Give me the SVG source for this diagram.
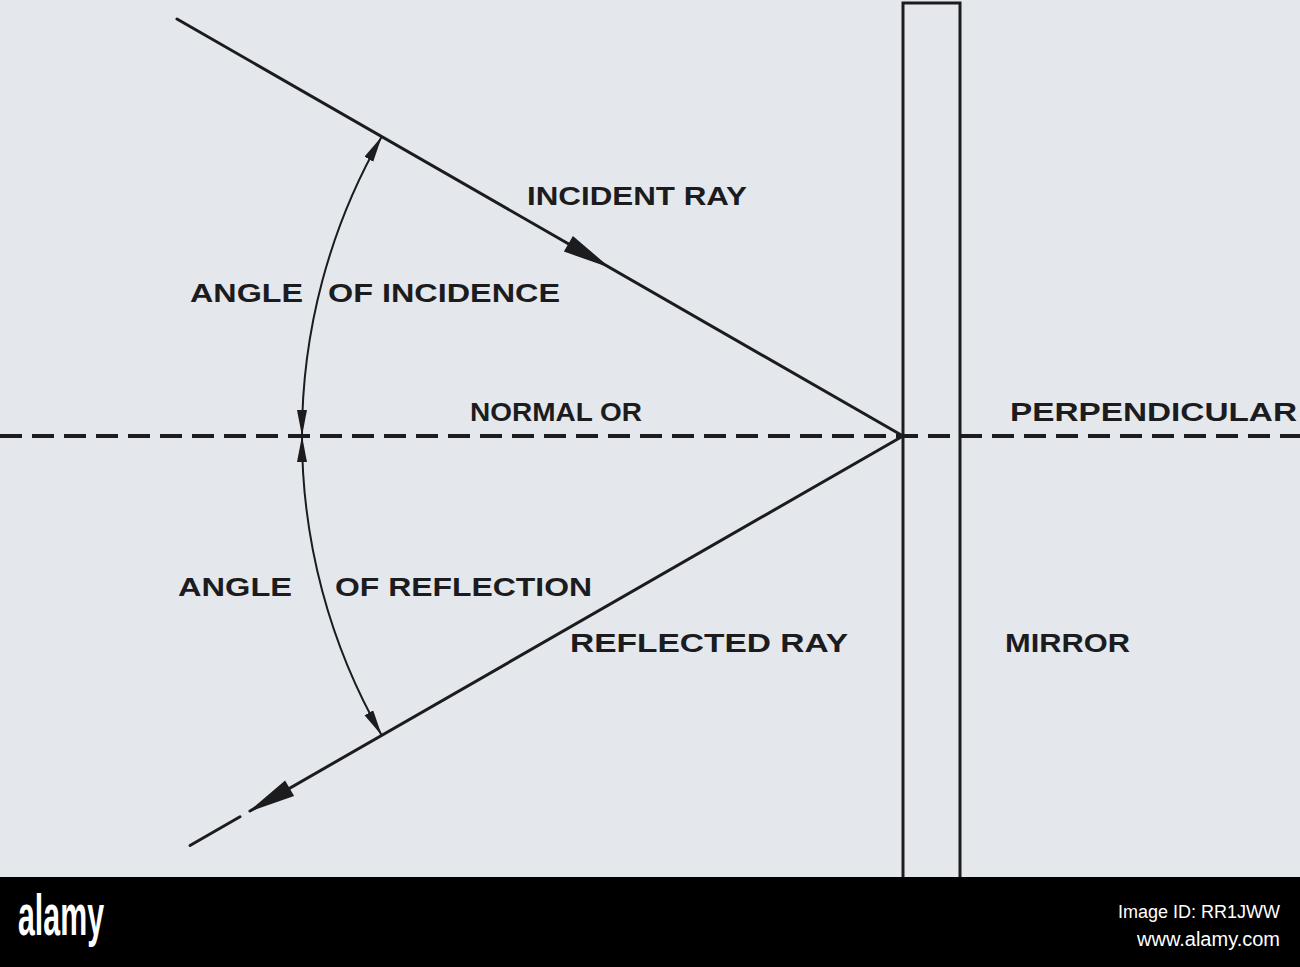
<svg xmlns="http://www.w3.org/2000/svg" width="1300" height="967" viewBox="0 0 1300 967">
  <style>
    .lbl { font-family: "Liberation Sans", Arial, sans-serif; font-weight: bold; font-size: 26px; fill: #1c1c1e; }
    .ray { stroke: #1c1c1e; stroke-width: 3; fill: none; stroke-linecap: round; }
    .arc { stroke: #1c1c1e; stroke-width: 2; fill: none; }
    .normal { stroke: #1c1c1e; stroke-width: 4; stroke-dasharray: 22 10; fill: none; }
    .head { fill: #1c1c1e; }
    .foot { font-family: "Liberation Sans", Arial, sans-serif; fill: #ffffff; }
  </style>
  <defs>
    <marker id="arcHead" markerUnits="userSpaceOnUse" markerWidth="30" markerHeight="12" refX="26" refY="5" orient="auto-start-reverse">
      <path d="M0,0 L26,5 L0,10 z" fill="#1c1c1e"/>
    </marker>
  </defs>

  <rect x="0" y="0" width="1300" height="967" fill="#e4e8ed"/>

  <g id="mirror">
    <rect x="903" y="3" width="57" height="880" fill="none" stroke="#1c1c1e" stroke-width="3"/>
  </g>

  <g id="connectors">
    <line class="normal" x1="0" y1="436" x2="1300" y2="436"/>
    <line id="incident-ray" class="ray" x1="177" y1="19" x2="903" y2="436"/>
    <polygon class="head" points="610,267.7 572.9,236 563.9,251.6"/>
    <line id="reflected-ray" class="ray" x1="903" y1="436" x2="250" y2="811"/>
    <line class="ray" x1="240" y1="816.8" x2="190" y2="845.5"/>
    <polygon class="head" points="248,812.2 294.1,796.1 285.1,780.5"/>
    <path id="arc-incidence" class="arc" d="M302,436 A601,601 0 0 1 381.8,136.6" marker-start="url(#arcHead)" marker-end="url(#arcHead)"/>
    <path id="arc-reflection" class="arc" d="M302,436 A601,601 0 0 0 381.8,735.4" marker-start="url(#arcHead)" marker-end="url(#arcHead)"/>
  </g>

  <g id="labels">
    <text class="lbl" x="527" y="205" textLength="220" lengthAdjust="spacingAndGlyphs">INCIDENT RAY</text>
    <text class="lbl" x="190" y="302" textLength="113" lengthAdjust="spacingAndGlyphs">ANGLE</text>
    <text class="lbl" x="328" y="302" textLength="232" lengthAdjust="spacingAndGlyphs">OF INCIDENCE</text>
    <text class="lbl" x="470" y="421" textLength="172" lengthAdjust="spacingAndGlyphs">NORMAL OR</text>
    <text class="lbl" x="1010" y="421" textLength="287" lengthAdjust="spacingAndGlyphs">PERPENDICULAR</text>
    <text class="lbl" x="178" y="596" textLength="114" lengthAdjust="spacingAndGlyphs">ANGLE</text>
    <text class="lbl" x="335" y="596" textLength="257" lengthAdjust="spacingAndGlyphs">OF REFLECTION</text>
    <text class="lbl" x="570" y="652" textLength="278" lengthAdjust="spacingAndGlyphs">REFLECTED RAY</text>
    <text class="lbl" x="1005" y="652" textLength="125" lengthAdjust="spacingAndGlyphs">MIRROR</text>
  </g>

  <g id="footer">
    <rect x="0" y="877" width="1300" height="90" fill="#000000"/>
    <text class="foot" x="18" y="935" font-size="58" font-weight="bold" textLength="86" lengthAdjust="spacingAndGlyphs">alamy</text>
    <text class="foot" x="1280" y="918" font-size="18" text-anchor="end">Image ID: RR1JWW</text>
    <text class="foot" x="1280" y="946" font-size="20" text-anchor="end">www.alamy.com</text>
  </g>
</svg>
